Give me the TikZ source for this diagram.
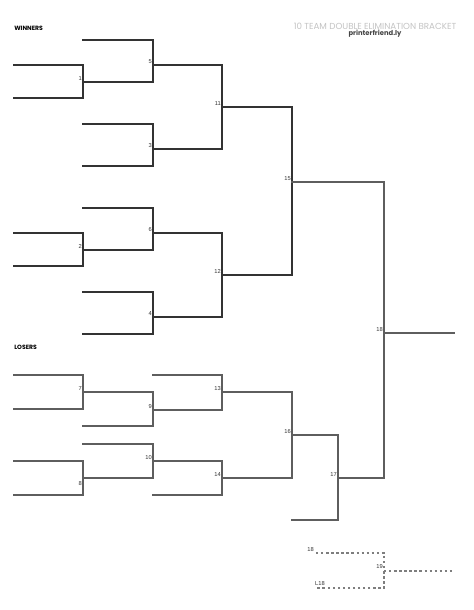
\documentclass[tikz,border=0pt]{standalone}
\usepackage{fontspec}
\setmainfont{Poppins}
\newfontfamily\labfont{Liberation Sans}
\definecolor{winc}{HTML}{333333}
\definecolor{losc}{HTML}{5E5E5E}
\definecolor{titlec}{HTML}{C4C4C4}
\definecolor{brandc}{HTML}{444444}
\tikzset{
  wline/.style={draw=winc, line width=0.9pt, line cap=rect},
  lline/.style={draw=losc, line width=0.85pt, line cap=rect},
  dline/.style={draw=losc!80, line width=0.8pt, dash pattern=on 1.8pt off 2pt},
  mnum/.style={font=\labfont\fontsize{4.3}{5}\selectfont, text=black!80, inner sep=0pt, anchor=east},
  head/.style={font=\fontsize{4.6}{5}\selectfont\bfseries, inner sep=0pt, anchor=west},
}
\begin{document}
\begin{tikzpicture}[x=0.75pt, y=-0.75pt]
\fill[white] (0,0) rectangle (474,610);
\useasboundingbox (0,0) rectangle (474,610);

% titles
\node[font=\fontsize{6.55}{8}\selectfont, text=titlec, inner sep=0pt] (title) at (375,26) {10 TEAM DOUBLE ELIMINATION BRACKET};
\node[font=\fontsize{5.1}{6}\selectfont\bfseries, text=brandc, inner sep=0pt] (brand) at (375,34) {printerfriend.ly};
\node[head] (winners) at (14,28) {WINNERS};
\node[head] (losers) at (14,347) {LOSERS};

% winners junctions
\coordinate (m1) at (83,82);
\coordinate (m2) at (83,250);
\coordinate (m5) at (153,65);
\coordinate (m3) at (153,149);
\coordinate (m6) at (153,233);
\coordinate (m4) at (153,317);
\coordinate (m11) at (222,107);
\coordinate (m12) at (222,275);
\coordinate (m15) at (292,182);
\coordinate (m18) at (384,333);
\coordinate (champ) at (454,333);

% match 1
\draw[wline] (14,65) -- (83,65) -- (83,98) -- (14,98);
% match 2
\draw[wline] (14,233) -- (83,233) -- (83,266) -- (14,266);
% match 5
\draw[wline] (83,40) -- (153,40) -- (153,82) -- (m1);
% match 3
\draw[wline] (83,124) -- (153,124) -- (153,166) -- (83,166);
% match 6
\draw[wline] (83,208) -- (153,208) -- (153,250) -- (m2);
% match 4
\draw[wline] (83,292) -- (153,292) -- (153,334) -- (83,334);
% match 11
\draw[wline] (m5) -- (222,65) -- (222,149) -- (m3);
% match 12
\draw[wline] (m6) -- (222,233) -- (222,317) -- (m4);
% match 15
\draw[wline] (m11) -- (292,107) -- (292,275) -- (m12);

% losers junctions
\coordinate (m7) at (83,392);
\coordinate (m8) at (83,478);
\coordinate (m9) at (153,410);
\coordinate (m10) at (153,461);
\coordinate (m13) at (222,392);
\coordinate (m14) at (222,478);
\coordinate (m16) at (292,435);
\coordinate (m17) at (338,478);

% match 7
\draw[lline] (14,375) -- (83,375) -- (83,409) -- (14,409);
% match 8
\draw[lline] (14,461) -- (83,461) -- (83,495) -- (14,495);
% match 9
\draw[lline] (m7) -- (153,392) -- (153,426) -- (83,426);
% match 10
\draw[lline] (83,444) -- (153,444) -- (153,478) -- (m8);
% match 13
\draw[lline] (153,375) -- (222,375) -- (222,410) -- (m9);
% match 14
\draw[lline] (m10) -- (222,461) -- (222,495) -- (153,495);
% match 16
\draw[lline] (m13) -- (292,392) -- (292,478) -- (m14);
% match 17
\draw[lline] (m16) -- (338,435) -- (338,520) -- (292,520);
% match 18
\draw[lline] (m15) -- (384,182) -- (384,478) -- (m17);
\draw[lline] (m18) -- (champ);

% match 19 (if necessary)
\coordinate (d18) at (316,553);
\coordinate (dl18) at (316,588);
\coordinate (m19) at (384,571);
\coordinate (champ2) at (454,571);
\draw[dline] (d18) -- (384,553) -- (384,588) -- (dl18);
\draw[dline] (m19) -- (champ2);

% match numbers
\node[mnum] at (82,78.5) {1};
\node[mnum] at (82,246.5) {2};
\node[mnum] at (152,145.5) {3};
\node[mnum] at (152,313.5) {4};
\node[mnum] at (152,61.5) {5};
\node[mnum] at (152,229.5) {6};
\node[mnum] at (221,103.5) {11};
\node[mnum] at (221,271.5) {12};
\node[mnum] at (291,178.5) {15};
\node[mnum] at (383,329.5) {18};
\node[mnum] at (82,388.5) {7};
\node[mnum] at (82,484) {8};
\node[mnum] at (152,406.5) {9};
\node[mnum] at (152,457.5) {10};
\node[mnum] at (221,388.5) {13};
\node[mnum] at (221,474.5) {14};
\node[mnum] at (291,431.5) {16};
\node[mnum] at (337,474.5) {17};
\node[mnum] at (314,550) {18};
\node[mnum, anchor=center] at (320,584) {L18};
\node[mnum] at (383,567) {19};
\end{tikzpicture}
\end{document}
